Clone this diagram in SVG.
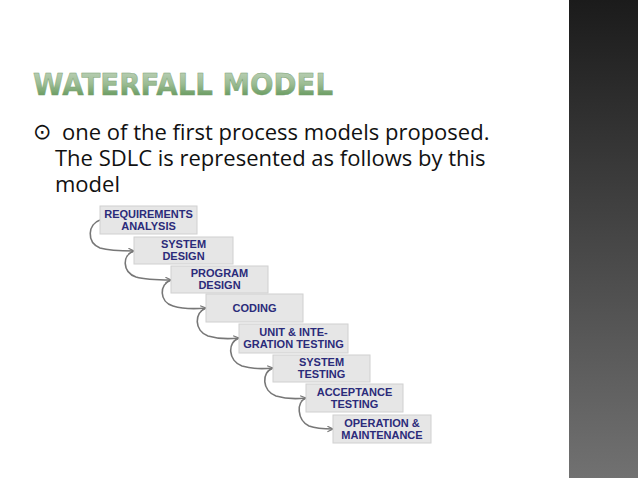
<svg xmlns="http://www.w3.org/2000/svg" width="638" height="478" viewBox="0 0 638 478">
<defs>
<linearGradient id="bar" x1="0" y1="0" x2="0" y2="1"><stop offset="0" stop-color="#1b1b1b"/><stop offset="1" stop-color="#717171"/></linearGradient>
<linearGradient id="tg" x1="0" y1="0" x2="0" y2="1"><stop offset="0" stop-color="#c8d8c4"/><stop offset="0.5" stop-color="#9bbc93"/><stop offset="1" stop-color="#4e8a45"/></linearGradient>
<marker id="ah" viewBox="0 0 10 10" refX="9" refY="5" markerWidth="7" markerHeight="7" orient="auto" markerUnits="userSpaceOnUse"><path d="M1,1 L9,5 L1,9" fill="none" stroke="#777" stroke-width="1.6"/></marker>
<style>
.b{fill:#e6e6e6;stroke:#d0d0d0;stroke-width:1}
.t{font-family:"Liberation Sans",Arial,sans-serif;font-weight:bold;font-size:11px;fill:#2b2b7a;text-anchor:middle}
.c{fill:none;stroke:#777;stroke-width:1.6}
.p{font-family:"Open Sans","DejaVu Sans",sans-serif;font-size:22px;fill:#111}
</style>
</defs>
<rect width="638" height="478" fill="#fff"/>
<rect x="569" y="0" width="69" height="478" fill="url(#bar)"/>
<text x="33" y="95" font-family="'DejaVu Sans',Verdana,sans-serif" font-weight="bold" font-size="31" fill="url(#tg)" stroke="#7a9f72" stroke-width="0.5" textLength="300" lengthAdjust="spacingAndGlyphs">WATERFALL MODEL</text>
<text x="33" y="139" class="p" font-size="16">⊙</text>
<text class="p"><tspan x="62" y="140">one of the first process models proposed.</tspan><tspan x="55" y="166">The SDLC is represented as follows by this</tspan><tspan x="55" y="192">model</tspan></text>
<g id="connectors">
<path class="c" marker-end="url(#ah)" d="M100,220 C88,224 86,242 100,248 C110,251 122,251 134,251"/>
<path class="c" marker-end="url(#ah)" d="M134,251 C122,255 122,272 136,277 C146,280 160,280 171,280"/>
<path class="c" marker-end="url(#ah)" d="M171,280 C159,284 159,302 173,306 C183,309 196,309 206,308"/>
<path class="c" marker-end="url(#ah)" d="M206,308 C194,312 194,331 208,336 C218,339 230,339 239,338"/>
<path class="c" marker-end="url(#ah)" d="M239,338 C227,342 228,361 242,366 C252,369 264,369 273,368"/>
<path class="c" marker-end="url(#ah)" d="M273,368 C261,372 262,391 276,396 C286,399 297,399 306,398"/>
<path class="c" marker-end="url(#ah)" d="M306,398 C296,402 297,420 309,426 C317,429 326,429 333,429"/>
</g>
<g id="n1"><rect class="b" x="100" y="206" width="97" height="28"/><text class="t" x="148.5" y="218">REQUIREMENTS</text><text class="t" x="148.5" y="230">ANALYSIS</text></g>
<g id="n2"><rect class="b" x="134" y="237" width="99" height="27"/><text class="t" x="183.5" y="248">SYSTEM</text><text class="t" x="183.5" y="260">DESIGN</text></g>
<g id="n3"><rect class="b" x="171" y="266" width="97" height="27"/><text class="t" x="219.5" y="277">PROGRAM</text><text class="t" x="219.5" y="289">DESIGN</text></g>
<g id="n4"><rect class="b" x="206" y="294" width="97" height="28"/><text class="t" x="254.5" y="312">CODING</text></g>
<g id="n5"><rect class="b" x="239" y="324" width="109" height="29"/><text class="t" x="293.5" y="336">UNIT &amp; INTE-</text><text class="t" x="293.5" y="348">GRATION TESTING</text></g>
<g id="n6"><rect class="b" x="273" y="355" width="97" height="27"/><text class="t" x="321.5" y="366">SYSTEM</text><text class="t" x="321.5" y="378">TESTING</text></g>
<g id="n7"><rect class="b" x="306" y="384" width="97" height="28"/><text class="t" x="354.5" y="396">ACCEPTANCE</text><text class="t" x="354.5" y="408">TESTING</text></g>
<g id="n8"><rect class="b" x="333" y="415" width="98" height="28"/><text class="t" x="382" y="427">OPERATION &amp;</text><text class="t" x="382" y="439">MAINTENANCE</text></g>
</svg>
